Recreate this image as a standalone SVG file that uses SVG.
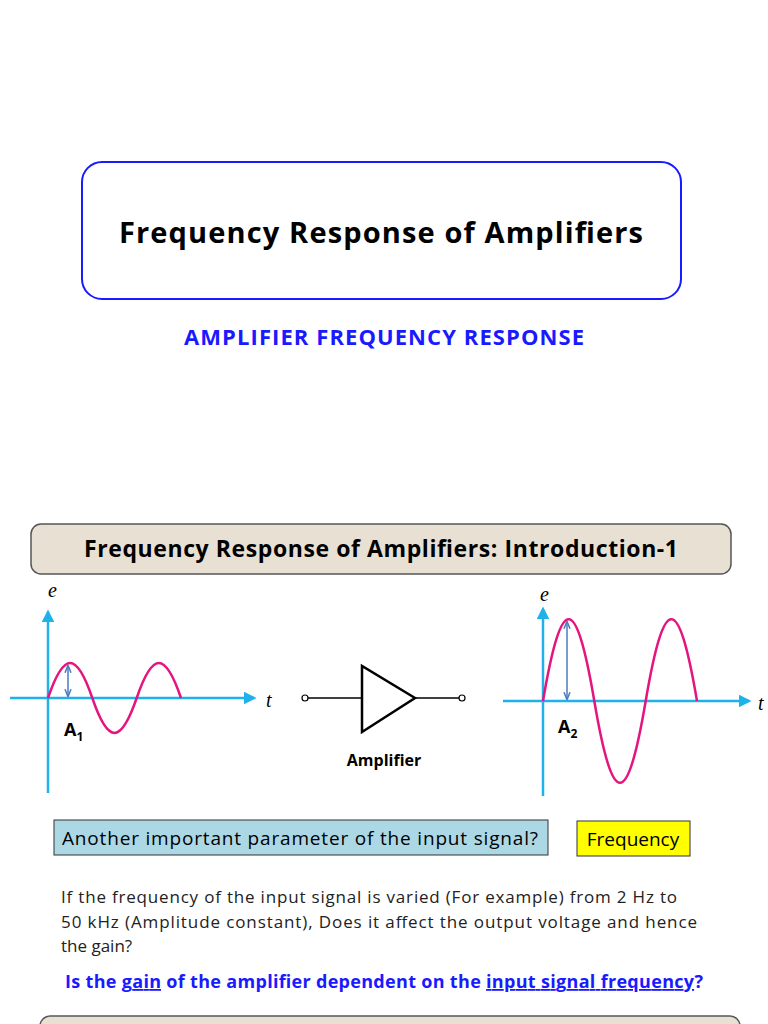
<svg xmlns="http://www.w3.org/2000/svg" width="768" height="1024" viewBox="0 0 768 1024">
<style>
.c{font-family:"Open Sans","Liberation Sans",sans-serif}
.ax{stroke:#1fb1ea;stroke-width:2.5;fill:none}
.w{stroke:#e5157f;stroke-width:2.5;fill:none}
.ban{fill:#e8e0d2;stroke:#555;stroke-width:1.5}
</style>
<defs>
<marker id="ah" viewBox="0 0 10 10" refX="8" refY="5" markerWidth="5" markerHeight="5" orient="auto"><path d="M0,0L10,5L0,10z" fill="#1fb1ea"/></marker>
<marker id="sa" viewBox="0 0 10 10" refX="9" refY="5" markerWidth="5" markerHeight="5" orient="auto-start-reverse"><path d="M0,1L10,5L0,9" fill="none" stroke="#4a7bc0" stroke-width="2"/></marker>
</defs>
<rect width="768" height="1024" fill="#fff"/>
<g id="title"><rect x="82" y="162" width="599" height="137" rx="20" fill="#fff" stroke="#1a1aff" stroke-width="2"/>
<text class="c" x="381" y="243" font-size="29" font-weight="bold" text-anchor="middle" textLength="524">Frequency Response of Amplifiers</text></g>
<text class="c" x="384" y="345" font-size="22" font-weight="bold" fill="#1a1aff" text-anchor="middle" textLength="400">AMPLIFIER FREQUENCY RESPONSE</text>
<g id="banner"><rect class="ban" x="31" y="524" width="700" height="50" rx="10"/>
<text class="c" x="381" y="557" font-size="23" font-weight="bold" text-anchor="middle" textLength="594">Frequency Response of Amplifiers: Introduction-1</text></g>
<g id="left-plot">
<line class="ax" x1="48" y1="793" x2="48" y2="612" marker-end="url(#ah)"/>
<line class="ax" x1="10" y1="698" x2="254" y2="698" marker-end="url(#ah)"/>
<path class="w" d="M48,698C63.9,651.4 76.4,651.4 92.3,698C108.2,744.6 120.7,744.6 136.7,698C152.6,651.4 165.1,651.4 181,698"/>
<line x1="68" y1="666" x2="68" y2="696" stroke="#4a7bc0" stroke-width="1.5" marker-start="url(#sa)" marker-end="url(#sa)"/>
<text x="48" y="597" font-family="Liberation Serif,serif" font-style="italic" font-size="20">e</text>
<text x="266" y="707" font-family="Liberation Serif,serif" font-style="italic" font-size="20">t</text>
<text class="c" x="64" y="736" font-size="18" font-weight="bold">A<tspan font-size="12" dy="5">1</tspan></text>
</g>
<g id="amplifier">
<circle cx="305" cy="698" r="3" fill="#fff" stroke="#000" stroke-width="1.2"/>
<line x1="308" y1="698" x2="362" y2="698" stroke="#000" stroke-width="1.5"/>
<polygon points="362,666 362,732 415,698" fill="#fff" stroke="#000" stroke-width="2.5"/>
<line x1="415" y1="698" x2="459" y2="698" stroke="#000" stroke-width="1.5"/>
<circle cx="462" cy="698" r="3" fill="#fff" stroke="#000" stroke-width="1.2"/>
<text class="c" x="384" y="766" font-size="16" font-weight="bold" text-anchor="middle">Amplifier</text>
</g>
<g id="right-plot">
<line class="ax" x1="543" y1="796" x2="543" y2="609" marker-end="url(#ah)"/>
<line class="ax" x1="503" y1="701" x2="749" y2="701" marker-end="url(#ah)"/>
<path class="w" d="M543,701C561.5,592 575.8,592 594.3,701C612.8,810 627.2,810 645.7,701C664.2,592 678.5,592 697,701"/>
<line x1="567" y1="622" x2="567" y2="699" stroke="#4a7bc0" stroke-width="1.5" marker-start="url(#sa)" marker-end="url(#sa)"/>
<text x="540" y="601" font-family="Liberation Serif,serif" font-style="italic" font-size="20">e</text>
<text x="758" y="710" font-family="Liberation Serif,serif" font-style="italic" font-size="20">t</text>
<text class="c" x="558" y="733" font-size="18" font-weight="bold">A<tspan font-size="12" dy="5">2</tspan></text>
</g>
<g id="question1"><rect x="54" y="820" width="494" height="35" fill="#acd8e6" stroke="#333"/>
<text class="c" x="62" y="845" font-size="19" textLength="476">Another important parameter of the input  signal?</text></g>
<g id="answer"><rect x="577" y="821" width="113" height="35" fill="#ffff00" stroke="#333"/>
<text class="c" x="633" y="846" font-size="19" text-anchor="middle">Frequency</text></g>
<g class="c" font-size="17" fill="#222">
<text x="61" y="903" textLength="616">If the frequency of the input signal is varied (For example) from 2 Hz to</text>
<text x="61" y="928" textLength="636">50 kHz (Amplitude constant), Does it affect the output voltage and hence</text>
<text x="61" y="952">the gain?</text></g>
<text class="c" x="65" y="988" font-size="18" font-weight="bold" fill="#1a1aff" textLength="638">Is the <tspan text-decoration="underline">gain</tspan> of the amplifier dependent on the <tspan text-decoration="underline">input signal frequency</tspan>?</text>
<rect class="ban" x="40" y="1016" width="700" height="40" rx="10"/>
</svg>
